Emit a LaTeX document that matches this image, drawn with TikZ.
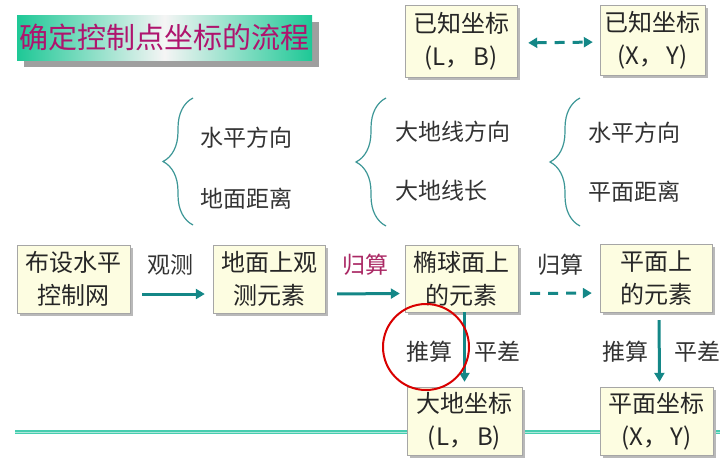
\documentclass[tikz,border=0pt]{standalone}
\usepackage{fontspec}
\setmainfont{Noto Sans CJK SC}
\usetikzlibrary{arrows.meta,shadows,decorations.pathreplacing}
\definecolor{boxfill}{RGB}{253,253,225}
\definecolor{tealarrow}{RGB}{20,135,135}
\definecolor{titlegreen}{RGB}{30,200,150}
\definecolor{titletext}{RGB}{175,20,110}
\definecolor{guisuan}{RGB}{170,40,100}
\definecolor{braceteal}{RGB}{60,150,150}
\definecolor{lineaqua}{RGB}{70,205,175}

\begin{document}
\begin{tikzpicture}[x=1pt, y=-1pt,
  box/.style={draw=gray!70, fill=boxfill, align=center, minimum width=112pt, minimum height=68pt, inner sep=0pt, font=\fontsize{24}{33}\selectfont, text=black!85, drop shadow={shadow xshift=3pt, shadow yshift=-3pt, fill=gray!55, opacity=1}},
  lbl/.style={font=\fontsize{23}{28}\selectfont, text=black!80, inner sep=0pt},
  arr/.style={tealarrow, line width=3pt, -{Triangle[length=9pt,width=10pt]}},
  darr/.style={arr, dash pattern=on 10pt off 8pt},
  curly/.style={braceteal, line width=1.2pt, decorate, decoration={brace, amplitude=30pt, aspect=0.5}}]

\useasboundingbox (0,0) rectangle (720,463);

%title
\node[fill=gray!75, minimum width=295pt, minimum height=45pt] at (171.5,44.5)(titleshadow){};
\node[left color=titlegreen, right color=titlegreen, middle color=gray!8, minimum width=295pt, minimum height=45pt, inner sep=0pt, text=titletext, font=\fontsize{29}{29}\selectfont] at (164.5,37.5)(title){确定控制点坐标的流程};

%ground line
\draw[lineaqua, line width=1.5pt, double=lineaqua!45, double distance=0.8pt] (15,432) -- (720,432);

%known coordinates
\node[box, minimum width=112pt, minimum height=72pt] at (461,41)(tk1){已知坐标\\(L，\,B)};
\node[box, minimum width=105pt, minimum height=70pt] at (652.5,40)(tk2){已知坐标\\(X，\,Y)};
\draw[darr, {Triangle[length=9pt,width=10pt]}-{Triangle[length=9pt,width=10pt]}, shorten <=11pt, shorten >=7pt] ([yshift=-2pt]tk1.east) -- ([yshift=-2pt]tk2.west);

%braces
\draw[curly] (193,225) -- (193,98);
\draw[curly] (386,226) -- (386,98);
\draw[curly] (580,226) -- (580,98);

\node[lbl, anchor=west] at (200,138)(h1){水平方向};
\node[lbl, anchor=west] at (200,199)(d1){地面距离};
\node[lbl, anchor=west] at (395,132)(h2){大地线方向};
\node[lbl, anchor=west] at (395,191)(d2){大地线长};
\node[lbl, anchor=west] at (588,133)(h3){水平方向};
\node[lbl, anchor=west] at (588,192)(d3){平面距离};

%flow boxes
\node[box, minimum width=113pt] at (73.5,279)(b1){布设水平\\控制网};
\node[box] at (269,279)(b2){地面上观\\测元素};
\node[box, minimum width=113pt, minimum height=67pt] at (461.5,278.5)(b3){椭球面上\\的元素};
\node[box] at (656,278)(b4){平面上\\的元素};
\node[box, minimum width=115pt] at (464.5,421)(b5){大地坐标\\(L，\,B)};
\node[box, minimum width=113pt] at (656.5,421)(b6){平面坐标\\(X，\,Y)};

%arrows
\draw[arr, shorten <=12pt, shorten >=8pt] ([yshift=-15pt]b1.east) -- ([yshift=-15pt]b2.west);
\draw[arr, shorten <=12pt, shorten >=5pt] ([yshift=-15pt]b2.east) -- ([yshift=-15pt]b3.west);
\draw[darr, shorten <=12pt, shorten >=8pt] ([yshift=-15pt]b3.east) -- ([yshift=-15pt]b4.west);
\draw[arr, shorten >=5pt] (b3.south -| b5.north) -- (b5.north);
\draw[arr, shorten <=8pt, shorten >=5pt] ([xshift=3pt]b4.south) -- ([xshift=3pt]b6.north);

%arrow labels
\node[lbl] at (170,265)(obs){观测};
\node[lbl, text=guisuan] at (365,265)(red1){归算};
\node[lbl] at (560,265)(red2){归算};
\node[lbl] at (429,352)(calc1){推算};
\node[lbl] at (497,352)(adj1){平差};
\node[lbl] at (625,352)(calc2){推算};
\node[lbl] at (697,352)(adj2){平差};

%highlight
\draw[red!85!black, line width=2pt] (426,347) circle (43pt);

\end{tikzpicture}
\end{document}
